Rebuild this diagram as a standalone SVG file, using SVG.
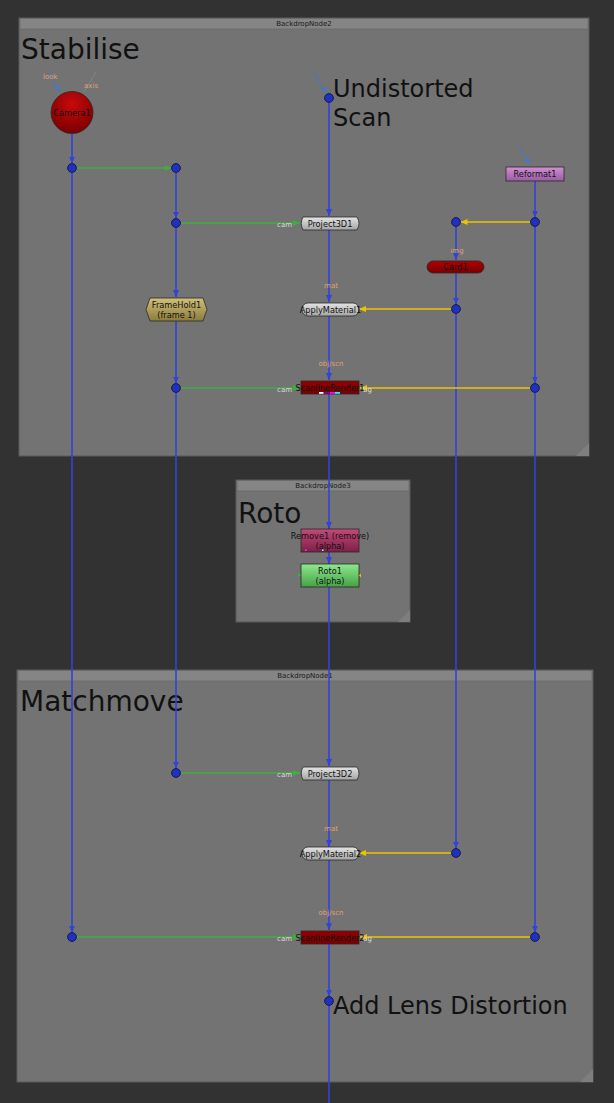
<svg xmlns="http://www.w3.org/2000/svg" width="614" height="1103" viewBox="0 0 614 1103">
<defs>
<style>
.bd{fill:#737373;stroke:#5a5a5a;stroke-width:1}
.bdt{fill:#858585;stroke:#6a6a6a;stroke-width:0.8}
.bdtitle{font-family:"DejaVu Sans",sans-serif;font-size:7px;fill:#1a1a1a;text-anchor:middle}
.big{font-family:"DejaVu Sans",sans-serif;font-size:28px;fill:#111}
.mid{font-family:"DejaVu Sans",sans-serif;font-size:24px;fill:#111}
.nl{font-family:"DejaVu Sans",sans-serif;font-size:8.2px;fill:#111;text-anchor:middle}
.lab{font-family:"DejaVu Sans",sans-serif;font-size:7px;fill:#e0a070}
.labw{font-family:"DejaVu Sans",sans-serif;font-size:7px;fill:#dcdcdc}
.blue{stroke:#3242dc;stroke-width:1.6;fill:none}
.green{stroke:#3cb03c;stroke-width:1.6;fill:none}
.yellow{stroke:#ecc400;stroke-width:1.6;fill:none}
.dot{fill:#2030c4;stroke:#141438;stroke-width:0.9}
.inarr{stroke:#4a78b8;stroke-width:1.3;fill:none}
.node{stroke:#2a2a2a;stroke-width:0.8}
</style>
<marker id="ab" markerUnits="userSpaceOnUse" markerWidth="8" markerHeight="7" refX="7" refY="3" orient="auto"><path d="M0,0 L7,3 L0,6 z" fill="#3242dc"/></marker>
<marker id="ag" markerUnits="userSpaceOnUse" markerWidth="8" markerHeight="7" refX="7" refY="3" orient="auto"><path d="M0,0 L7,3 L0,6 z" fill="#3cb03c"/></marker>
<marker id="ay" markerUnits="userSpaceOnUse" markerWidth="8" markerHeight="7" refX="7" refY="3" orient="auto"><path d="M0,0 L7,3 L0,6 z" fill="#ecc400"/></marker>
<marker id="ai" markerUnits="userSpaceOnUse" markerWidth="8" markerHeight="7" refX="7" refY="3" orient="auto"><path d="M0,0 L7,3 L0,6 z" fill="#4a78b8"/></marker>
<linearGradient id="gGray" x1="0" y1="0" x2="0" y2="1"><stop offset="0" stop-color="#e4e4e4"/><stop offset="1" stop-color="#a4a4a4"/></linearGradient>
<linearGradient id="gRed" x1="0" y1="0" x2="0" y2="1"><stop offset="0" stop-color="#950000"/><stop offset="1" stop-color="#780000"/></linearGradient>
<linearGradient id="gCard" x1="0" y1="0" x2="0" y2="1"><stop offset="0" stop-color="#b00000"/><stop offset="1" stop-color="#780000"/></linearGradient>
<radialGradient id="gCam" cx="0.5" cy="0.3" r="0.7"><stop offset="0" stop-color="#c80a0a"/><stop offset="1" stop-color="#7a0000"/></radialGradient>
<linearGradient id="gPurple" x1="0" y1="0" x2="0" y2="1"><stop offset="0" stop-color="#d090d0"/><stop offset="1" stop-color="#9a5aa6"/></linearGradient>
<linearGradient id="gOlive" x1="0" y1="0" x2="0" y2="1"><stop offset="0" stop-color="#d0c078"/><stop offset="1" stop-color="#8c7c3c"/></linearGradient>
<linearGradient id="gPink" x1="0" y1="0" x2="0" y2="1"><stop offset="0" stop-color="#c44a78"/><stop offset="1" stop-color="#7c2048"/></linearGradient>
<linearGradient id="gGreen" x1="0" y1="0" x2="0" y2="1"><stop offset="0" stop-color="#8ee88e"/><stop offset="1" stop-color="#46a046"/></linearGradient>
</defs>
<rect x="0" y="0" width="614" height="1103" fill="#323232"/>

<g id="BackdropNode2">
<rect class="bd" x="19" y="18" width="570" height="438"/>
<rect class="bdt" x="20" y="18.5" width="568" height="10.5"/>
<path d="M576,456 L589,443 L589,456 z" fill="#7e7e7e"/>
<text class="bdtitle" x="304" y="26">BackdropNode2</text>
<text class="big" x="21" y="59" font-size="29">Stabilise</text>
</g>
<g id="BackdropNode3">
<rect class="bd" x="236" y="480" width="174" height="142"/>
<rect class="bdt" x="237" y="480.5" width="172" height="10.5"/>
<path d="M398,622 L410,610 L410,622 z" fill="#7e7e7e"/>
<text class="bdtitle" x="323" y="488">BackdropNode3</text>
<text class="big" x="238" y="523">Roto</text>
</g>
<g id="BackdropNode1">
<rect class="bd" x="17" y="670" width="576" height="412"/>
<rect class="bdt" x="18" y="670.5" width="574" height="10.5"/>
<path d="M580,1082 L593,1069 L593,1082 z" fill="#7e7e7e"/>
<text class="bdtitle" x="305" y="678">BackdropNode1</text>
<text class="big" x="20" y="711">Matchmove</text>
</g>

<g id="connectors">
<line class="blue" x1="329" y1="102.5" x2="329" y2="216" marker-end="url(#ab)"/>
<line class="blue" x1="329" y1="230" x2="329" y2="302" marker-end="url(#ab)"/>
<line class="blue" x1="329" y1="316" x2="329" y2="380" marker-end="url(#ab)"/>
<line class="blue" x1="329" y1="394" x2="329" y2="529" marker-end="url(#ab)"/>
<line class="blue" x1="329" y1="552" x2="329" y2="564" marker-end="url(#ab)"/>
<line class="blue" x1="329" y1="587" x2="329" y2="766" marker-end="url(#ab)"/>
<line class="blue" x1="329" y1="780" x2="329" y2="847" marker-end="url(#ab)"/>
<line class="blue" x1="329" y1="860" x2="329" y2="930" marker-end="url(#ab)"/>
<line class="blue" x1="329" y1="944" x2="329" y2="996.5" marker-end="url(#ab)"/>
<line class="blue" x1="329" y1="1005.5" x2="329" y2="1103"/>
<line class="blue" x1="72" y1="134" x2="72" y2="163.5" marker-end="url(#ab)"/>
<line class="blue" x1="72" y1="172.5" x2="72" y2="932.5" marker-end="url(#ab)"/>
<line class="blue" x1="176" y1="172.5" x2="176" y2="218.5" marker-end="url(#ab)"/>
<line class="blue" x1="176" y1="227.5" x2="176" y2="297" marker-end="url(#ab)"/>
<line class="blue" x1="176" y1="321" x2="176" y2="383.5" marker-end="url(#ab)"/>
<line class="blue" x1="176" y1="392.5" x2="176" y2="768.5" marker-end="url(#ab)"/>
<line class="blue" x1="456" y1="226.5" x2="456" y2="260" marker-end="url(#ab)"/>
<line class="blue" x1="456" y1="273" x2="456" y2="304.5" marker-end="url(#ab)"/>
<line class="blue" x1="456" y1="313.5" x2="456" y2="848.5" marker-end="url(#ab)"/>
<line class="blue" x1="535" y1="181" x2="535" y2="217.5" marker-end="url(#ab)"/>
<line class="blue" x1="535" y1="226.5" x2="535" y2="383.5" marker-end="url(#ab)"/>
<line class="blue" x1="535" y1="392.5" x2="535" y2="932.5" marker-end="url(#ab)"/>
<line class="green" x1="76.5" y1="168" x2="171.5" y2="168" marker-end="url(#ag)"/>
<line class="green" x1="180.5" y1="223" x2="300" y2="223" marker-end="url(#ag)"/>
<line class="green" x1="180.5" y1="388" x2="300" y2="388" marker-end="url(#ag)"/>
<line class="green" x1="180.5" y1="773" x2="300" y2="773" marker-end="url(#ag)"/>
<line class="green" x1="76.5" y1="937" x2="300" y2="937" marker-end="url(#ag)"/>
<line class="yellow" x1="530.5" y1="222" x2="460.5" y2="222" marker-end="url(#ay)"/>
<line class="yellow" x1="451.5" y1="309" x2="359" y2="309" marker-end="url(#ay)"/>
<line class="yellow" x1="530.5" y1="388" x2="360" y2="388" marker-end="url(#ay)"/>
<line class="yellow" x1="451.5" y1="853" x2="359" y2="853" marker-end="url(#ay)"/>
<line class="yellow" x1="530.5" y1="937" x2="360" y2="937" marker-end="url(#ay)"/>
<line class="inarr" x1="48" y1="72" x2="60" y2="92" marker-end="url(#ai)"/>
<line x1="96" y1="72" x2="84" y2="92" stroke="#8290a8" stroke-width="1" opacity="0.6"/>
<line class="inarr" x1="314" y1="72" x2="326.5" y2="94" marker-end="url(#ai)"/>
<line class="inarr" x1="519" y1="146" x2="530" y2="165" marker-end="url(#ai)"/>
<text class="lab" x="43" y="79">look</text>
<text class="lab" x="84" y="88" fill="#d8b080">axis</text>
<text class="lab" x="457" y="253" text-anchor="middle">img</text>
<text class="lab" x="331" y="288" text-anchor="middle">mat</text>
<text class="lab" x="331" y="366" text-anchor="middle">obj/scn</text>
<text class="lab" x="331" y="831" text-anchor="middle">mat</text>
<text class="lab" x="331" y="915" text-anchor="middle">obj/scn</text>
<text class="labw" x="292" y="227" text-anchor="end">cam</text>
<text class="labw" x="292" y="392" text-anchor="end">cam</text>
<text class="labw" x="292" y="777" text-anchor="end">cam</text>
<text class="labw" x="292" y="941" text-anchor="end">cam</text>
<text class="labw" x="363" y="392">bg</text>
<text class="labw" x="363" y="941">bg</text>
</g>

<g id="Dot_UndistortedScan"><circle class="dot" cx="329" cy="98" r="4.4"/><text class="mid" x="333" y="97">Undistorted</text><text class="mid" x="333" y="126">Scan</text></g>
<g id="Dot1"><circle class="dot" cx="72" cy="168" r="4.4"/></g>
<g id="Dot2"><circle class="dot" cx="176" cy="168" r="4.4"/></g>
<g id="Dot3"><circle class="dot" cx="176" cy="223" r="4.4"/></g>
<g id="Dot4"><circle class="dot" cx="456" cy="222" r="4.4"/></g>
<g id="Dot5"><circle class="dot" cx="535" cy="222" r="4.4"/></g>
<g id="Dot6"><circle class="dot" cx="456" cy="309" r="4.4"/></g>
<g id="Dot7"><circle class="dot" cx="176" cy="388" r="4.4"/></g>
<g id="Dot8"><circle class="dot" cx="535" cy="388" r="4.4"/></g>
<g id="Dot9"><circle class="dot" cx="176" cy="773" r="4.4"/></g>
<g id="Dot10"><circle class="dot" cx="456" cy="853" r="4.4"/></g>
<g id="Dot11"><circle class="dot" cx="72" cy="937" r="4.4"/></g>
<g id="Dot12"><circle class="dot" cx="535" cy="937" r="4.4"/></g>
<g id="Dot_AddLensDistortion"><circle class="dot" cx="329" cy="1001" r="4.4"/><text class="mid" x="333" y="1014" font-size="24.3">Add Lens Distortion</text></g>

<g id="Camera1"><circle class="node" cx="72" cy="112.5" r="21" fill="url(#gCam)"/><text class="nl" x="72" y="115.5">Camera1</text></g>
<g id="Reformat1"><rect class="node" x="506" y="167" width="58" height="14" fill="url(#gPurple)"/><text class="nl" x="535" y="177">Reformat1</text></g>
<g id="Project3D1"><path class="node" d="M303,217 H357 Q361,223.5 357,230 H303 Q299.5,223.5 303,217 Z" fill="url(#gGray)"/><text class="nl" x="330" y="226.5">Project3D1</text></g>
<g id="Card1"><rect class="node" x="427" y="261" width="57" height="12" rx="6" fill="url(#gCard)"/><text class="nl" x="455.5" y="270">Card1</text></g>
<g id="FrameHold1"><polygon class="node" points="146,309.5 150,298 203,298 207,309.5 203,321 150,321" fill="url(#gOlive)"/><text class="nl" x="176.5" y="307.5">FrameHold1</text><text class="nl" x="176.5" y="317.5">(frame 1)</text></g>
<g id="ApplyMaterial1"><rect class="node" x="302" y="303" width="57" height="13" rx="6" fill="url(#gGray)"/><text class="nl" x="330.5" y="312.5">ApplyMaterial1</text></g>
<g id="ScanlineRender1"><rect class="node" x="301" y="381" width="58" height="13" fill="url(#gRed)"/><text class="nl" x="330" y="390.5">ScanlineRender1</text>
<rect x="319" y="392" width="4.5" height="1.8" fill="#ffffff"/><rect x="324" y="392" width="5.5" height="1.8" fill="#8a008a"/><rect x="330" y="392" width="5" height="1.8" fill="#ff00ff"/><rect x="335" y="392" width="5" height="1.8" fill="#00ffff"/></g>
<g id="Remove1"><rect class="node" x="301" y="529" width="58" height="23" fill="url(#gPink)"/><text class="nl" x="330" y="539">Remove1 (remove)</text><text class="nl" x="330" y="549">(alpha)</text>
<rect x="305" y="549.5" width="1.5" height="1.5" fill="#ff40ff"/><rect x="322" y="549.5" width="1.5" height="1.5" fill="#a0ffff"/></g>
<g id="Roto1"><rect class="node" x="301" y="564" width="58" height="23" fill="url(#gGreen)"/><text class="nl" x="330" y="574">Roto1</text><text class="nl" x="330" y="584">(alpha)</text>
<path d="M298,573 L301,575 L298,577 z" fill="#3cb03c"/><path d="M361,573.5 L359,575.5 L361,577.5 z" fill="#ecc400"/></g>
<g id="Project3D2"><path class="node" d="M303,767 H357 Q361,773.5 357,780 H303 Q299.5,773.5 303,767 Z" fill="url(#gGray)"/><text class="nl" x="330" y="776.5">Project3D2</text></g>
<g id="ApplyMaterial2"><rect class="node" x="302" y="847" width="57" height="13" rx="6" fill="url(#gGray)"/><text class="nl" x="330.5" y="856.5">ApplyMaterial2</text></g>
<g id="ScanlineRender2"><rect class="node" x="301" y="931" width="58" height="13" fill="url(#gRed)"/><text class="nl" x="330" y="940.5">ScanlineRender2</text></g>
</svg>
